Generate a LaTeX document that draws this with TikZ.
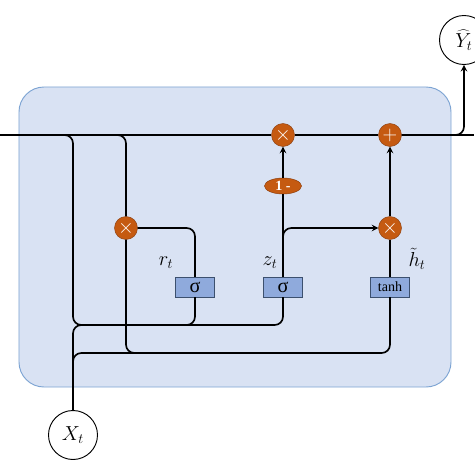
\documentclass[tikz,border=0pt]{standalone}
\usepackage{fontspec}
\setmainfont{Liberation Serif}
\usetikzlibrary{shapes.geometric}
\definecolor{cellfill}{RGB}{217,226,243}
\definecolor{celledge}{RGB}{125,164,211}
\definecolor{opfill}{RGB}{197,90,17}
\definecolor{opedge}{RGB}{140,60,10}
\definecolor{actfill}{RGB}{143,170,220}
\definecolor{actedge}{RGB}{60,80,110}
\begin{document}
\begin{tikzpicture}[
    x=0.03cm, y=-0.03cm,
    >=stealth,
    wire/.style={line width=1.4pt, rounded corners=0.25cm},
    cell/.style={draw=celledge, fill=cellfill, line width=0.8pt, rounded corners=0.75cm,
      minimum width=12.96cm, minimum height=9cm},
    op/.style={circle, draw=opedge, fill=opfill, text=white, inner sep=0pt,
      minimum size=0.69cm, font=\LARGE},
    act/.style={draw=actedge, fill=actfill, inner sep=0pt, minimum width=1.17cm,
      minimum height=0.6cm},
    io/.style={circle, draw, line width=0.8pt, fill=white, minimum size=1.47cm, font=\LARGE},
    lbl/.style={font=\LARGE}
  ]
  \useasboundingbox (0,0) rectangle (474,474);
  \node[cell] (cell) at (235,237) {};
  % nodes
  \node[io] (yout) at (464,40) {$\widehat{Y}_t$};
  \node[io] (xin) at (73,435) {$X_t$};
  \node[op] (mult) at (283,135) {$\times$};
  \node[op] (plus) at (390,135) {$+$};
  \node[op] (mulr) at (126,228) {$\times$};
  \node[op] (mulh) at (390,228) {$\times$};
  \node[ellipse, fill=opfill, draw=opedge, text=white, inner sep=0pt,
    minimum width=1.11cm, minimum height=0.48cm, font=\large\bfseries] (one) at (283,186) {1 -};
  \node[act, font=\LARGE] (sigr) at (195,287) {σ};
  \node[act, font=\LARGE] (sigz) at (283,287) {σ};
  \node[act, font=\large] (tanhb) at (390,287) {tanh};
  \node[lbl] (rt) at (166,263) {$r_t$};
  \node[lbl] (zt) at (270,263) {$z_t$};
  \node[lbl] (ht) at (417,259) {$\tilde{h}_t$};
  % hidden state line
  \draw[wire] (0,135) -- (mult);
  \draw[wire] (mult) -- (plus);
  \draw[wire] (plus) -- (474,135);
  \draw[wire, ->] (plus) -- (464,135) -- (yout);
  \draw[wire] (40,135) -- (73,135) -- (73,325) -- (195,325) -- (sigr);
  \draw[wire] (180,325) -- (283,325) -- (sigz);
  \draw[wire] (100,135) -- (126,135) -- (mulr);
  \draw[wire] (mulr) -- (126,353) -- (150,353);
  % input
  \draw[wire] (xin.north) -- (73,325) -- (100,325);
  \draw[wire] (xin.north) -- (73,353) -- (390,353) -- (tanhb);
  % gates
  \draw[wire] (sigr) -- (195,228) -- (mulr);
  \draw[wire] (sigz) -- (one);
  \draw[wire, ->] (one) -- (mult);
  \draw[wire, ->] (283,250) -- (283,228) -- (mulh);
  \draw[wire] (tanhb) -- (mulh);
  \draw[wire, ->] (mulh) -- (plus);
\end{tikzpicture}
\end{document}
